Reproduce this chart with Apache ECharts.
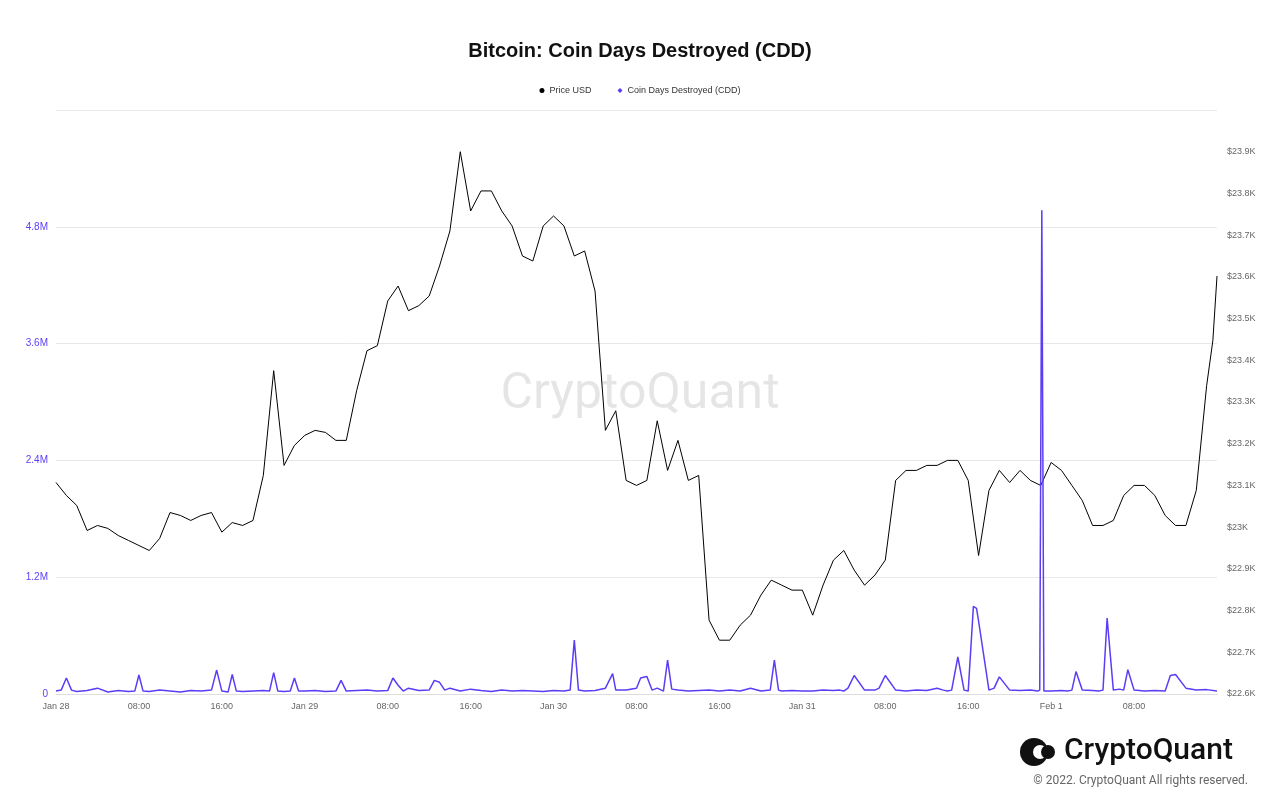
<!DOCTYPE html>
<html><head><meta charset="utf-8">
<script src="https://cdn.jsdelivr.net/npm/echarts@6/dist/echarts.min.js"></script>
<style>html,body{margin:0;padding:0;background:#fff}#c{width:1280px;height:806px}</style>
</head><body><div id="c"></div>
<script>
const dayLabels = ["Jan 28","Jan 29","Jan 30","Jan 31","Feb 1"];
const priceHours = [0,1,2,3,4,5,6,7,8,9,10,11,12,13,14,15,16,17,18,19,20,21,22,23,24,25,26,27,28,29,30,31,32,33,34,35,36,37,38,39,40,41,42,43,44,45,46,47,48,49,50,51,52,53,54,55,56,57,58,59,60,61,62,63,64,65,66,67,68,69,70,71,72,73,74,75,76,77,78,79,80,81,82,83,84,85,86,87,88,89,90,91,92,93,94,95,96,97,98,99,100,101,102,103,104,105,106,107,108,109,110,111,111.6,112];
const priceUSD = [23107,23076,23052,22992,23004,22997,22980,22968,22956,22944,22973,23035,23028,23016,23028,23035,22988,23011,23004,23016,23124,23375,23148,23196,23220,23232,23227,23208,23208,23327,23423,23435,23542,23578,23519,23531,23554,23626,23710,23900,23758,23806,23806,23758,23722,23650,23638,23722,23746,23722,23650,23662,23566,23232,23279,23112,23100,23112,23255,23136,23208,23112,23124,22777,22729,22729,22765,22789,22837,22873,22861,22849,22849,22789,22861,22921,22944,22897,22861,22885,22921,23112,23136,23136,23148,23148,23160,23160,23112,22932,23088,23136,23107,23136,23112,23100,23155,23136,23100,23064,23004,23004,23016,23076,23100,23100,23076,23028,23004,23004,23088,23339,23447,23602];
const cddHours = [0,0.5,1,1.5,2,3,4,5,6,7,7.6,8,8.4,9,10,11,12,13,14,15,15.5,16,16.6,17,17.4,18,19,20,20.6,21,21.4,22,22.6,23,23.4,24,25,26,27,27.5,28,29,30,31,32,32.5,33,33.5,34,35,36,36.5,37,37.5,38,39,40,41,42,43,44,45,46,47,48,49,49.6,50,50.4,51,52,53,53.7,54,55,56,56.4,57,57.5,58,58.6,59,59.4,60,61,62,63,64,65,66,67,68,68.9,69.3,69.7,70,71,72,73,74,75,75.6,76,76.4,77,78,79,79.4,80,81,82,83,84,85,85.6,86,86.4,87,87.6,88,88.5,88.8,89,90,90.5,91,92,93,94,94.7,94.9,95.1,95.3,96,97,97.6,98,98.4,99,100,100.6,101,101.4,102,102.6,103,103.4,104,105,106,107,107.5,108,109,110,111,112];
const cddValues = [30000,40000,164000,40000,25000,35000,60000,20000,35000,25000,30000,195000,30000,25000,40000,30000,20000,35000,30000,40000,246000,30000,20000,200000,30000,25000,30000,35000,30000,220000,30000,25000,30000,164000,30000,30000,35000,25000,30000,140000,30000,35000,40000,30000,35000,164000,90000,30000,60000,35000,40000,140000,120000,40000,60000,30000,50000,35000,25000,40000,30000,35000,30000,25000,35000,30000,40000,554000,40000,30000,35000,60000,210000,40000,40000,60000,164000,180000,40000,60000,30000,349000,50000,40000,30000,35000,40000,30000,40000,30000,60000,30000,40000,349000,40000,30000,35000,30000,30000,40000,35000,40000,30000,60000,190000,40000,40000,60000,190000,40000,30000,40000,35000,60000,40000,30000,40000,380000,40000,30000,900000,880000,750000,40000,60000,176000,40000,35000,40000,30000,40000,4970000,30000,30000,35000,30000,40000,230000,40000,35000,30000,40000,780000,40000,50000,40000,250000,40000,30000,35000,30000,190000,200000,60000,40000,45000,30000,80000];

const chart = echarts.init(document.getElementById('c'));
chart.setOption({
  animation:false,
  backgroundColor:'#fff',
  title:{text:'Bitcoin: Coin Days Destroyed (CDD)',left:'center',top:36,textStyle:{fontFamily:'Liberation Sans',fontSize:20,fontWeight:'bold',color:'#111'}},
  legend:{top:81,left:'center',itemWidth:5,itemHeight:5,itemGap:26,icon:'circle',textStyle:{fontFamily:'Liberation Sans',fontSize:9,color:'#333'},
    data:[{name:'Price USD',itemStyle:{color:'#000'}},{name:'Coin Days Destroyed (CDD)',icon:'diamond',itemStyle:{color:'#5b3df5'}}]},
  grid:{left:56,right:63,top:110,bottom:112},
  graphic:[
    {type:'text',left:'center',top:370,style:{text:'CryptoQuant',fontFamily:'Roboto',fontSize:50,fill:'rgba(0,0,0,0.1)'},z:0},
    {type:'circle',shape:{cx:1034,cy:752,r:14},style:{fill:'#111'}},
    {type:'circle',shape:{cx:1040,cy:752,r:7},style:{fill:'#fff'}},
    {type:'circle',shape:{cx:1048,cy:752,r:7},style:{fill:'#111'}},
    {type:'text',left:1064,top:736,style:{text:'CryptoQuant',fontFamily:'Roboto',fontSize:30,fontWeight:500,fill:'#111'}},
    {type:'text',right:32,top:775,style:{text:'© 2022. CryptoQuant All rights reserved.',fontFamily:'Roboto',fontSize:12,fill:'#666'}}
  ],
  xAxis:{type:'value',min:0,max:112,interval:8,
    axisLine:{show:true,lineStyle:{color:'#ddd'}},axisTick:{show:false},splitLine:{show:false},
    axisLabel:{fontFamily:'Liberation Sans',fontSize:9,color:'#666',showMaxLabel:false,
      formatter:v=>{const h=v%24;return h===0?dayLabels[v/24]:(h<10?'0'+h:h)+':00';}}},
  yAxis:[
    {type:'value',min:0,max:6000000,interval:1200000,position:'left',
      axisLabel:{fontFamily:'Liberation Sans',fontSize:10,color:'#5b3df5',showMaxLabel:false,formatter:v=>v===0?'0':(v/1e6).toFixed(1)+'M'},
      splitLine:{lineStyle:{color:'#e8e8e8'}},axisLine:{show:false},axisTick:{show:false}},
    {type:'value',min:22600,max:24000,interval:100,position:'right',
      axisLabel:{fontFamily:'Liberation Sans',fontSize:9,color:'#666',showMaxLabel:false,margin:10,
        formatter:v=>'$'+(v/1000).toFixed(1).replace(/\.0$/,'')+'K'},
      splitLine:{show:false},axisLine:{show:false},axisTick:{show:false}}
  ],
  series:[
    {name:'Price USD',type:'line',yAxisIndex:1,showSymbol:false,lineStyle:{width:1,color:'#000'},itemStyle:{color:'#000'},
      data:priceHours.map((h,i)=>[h,priceUSD[i]]),z:3},
    {name:'Coin Days Destroyed (CDD)',type:'line',yAxisIndex:0,showSymbol:false,lineStyle:{width:1.5,color:'#5b3df5'},itemStyle:{color:'#5b3df5'},
      data:cddHours.map((h,i)=>[h,cddValues[i]]),z:4}
  ]
});
</script></body></html>
